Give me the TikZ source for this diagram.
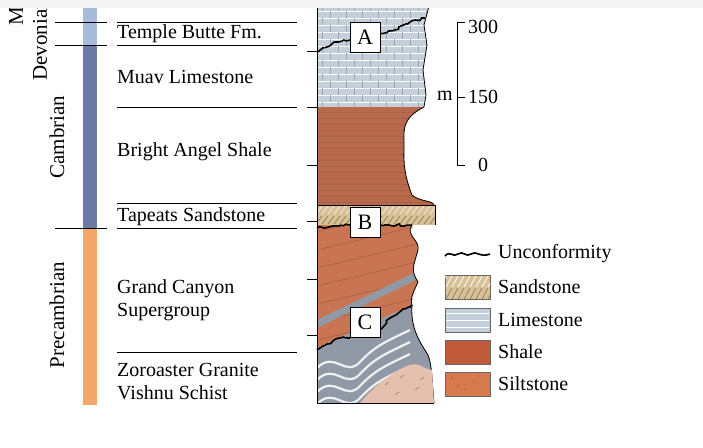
\documentclass[tikz,border=0pt]{standalone}
\usepackage{fontspec}
\setmainfont{Liberation Serif}
\usetikzlibrary{decorations.pathmorphing}
\definecolor{lime}{HTML}{C3D0DC}
\definecolor{shale}{HTML}{B86A4C}
\definecolor{shaleL}{HTML}{C05A3A}
\definecolor{sgrp}{HTML}{C97452}
\definecolor{sand}{HTML}{D8C195}
\definecolor{schist}{HTML}{9299A6}
\definecolor{gran}{HTML}{E6C0AE}
\definecolor{barL}{HTML}{A9BBDC}
\definecolor{barD}{HTML}{6B7AA6}
\definecolor{barO}{HTML}{F5A66B}
\definecolor{silt}{HTML}{D77A50}
\tikzset{lbl/.style={font=\fontsize{20}{23}\selectfont,anchor=west,inner sep=0},
 rot/.style={font=\fontsize{21}{23}\selectfont,rotate=90,inner sep=0},
 rule/.style={line width=0.8pt},
 unc/.style={line width=1.6pt,decorate,decoration={random steps,segment length=3pt,amplitude=1.2pt}},
 letter/.style={draw,fill=white,minimum size=30pt,inner sep=0,font=\fontsize{22}{24}\selectfont},
 sw/.style={draw=black!60,line width=0.6pt,minimum width=45pt,minimum height=24pt,inner sep=0}}
\begin{document}
\begin{tikzpicture}[x=1pt,y=-1pt]
\useasboundingbox (0,0) rectangle (703,447);
\fill[white] (0,0) rectangle (703,447);
% rotated period labels
\node[rot] (dev) at (40,40) {Devonian};
\node[rot] (mis) at (16,16) {M};
\node[rot] (cam) at (57,137) {Cambrian};
\node[rot] (pre) at (57,315) {Precambrian};
% period bar
\fill[barL] (83,0) rectangle (97,45);
\fill[barD] (83,45) rectangle (97,228);
\fill[barO] (83,228) rectangle (97,405);
\foreach \y in {22,45,228} \draw[rule] (55,\y) -- (107,\y);
% formation rules
\foreach \y in {22,45,107,203,228,352} \draw[rule] (117,\y) -- (297,\y);
\node[lbl] (tb) at (117,34) {Temple Butte Fm.};
\node[lbl] (mu) at (117,77) {Muav Limestone};
\node[lbl] (ba) at (117,152) {Bright Angel Shale};
\node[lbl] (ts) at (117,217) {Tapeats Sandstone};
\node[lbl,align=left] (gc) at (117,300) {Grand Canyon\\Supergroup};
\node[lbl,align=left] (zv) at (117,382) {Zoroaster Granite\\Vishnu Schist};
% ticks
\foreach \y in {51,107,165,221,279,335} \draw[rule] (307,\y) -- (317,\y);
% limestone
\begin{scope}
\clip (317,0) -- (430,0) -- (428,10) -- (424,25) -- (427,45) -- (423,70) -- (426,95) -- (424,107) -- (317,107) -- cycle;
\fill[lime] (317,0) rectangle (440,107);
\foreach \y in {4,11,...,107} \draw[white,line width=1pt] (317,\y) -- (440,\y);
\foreach \y in {4,18,...,107} \foreach \x in {322,338,...,440} \draw[black!35,line width=0.5pt] (\x,\y) -- (\x,\y+7);
\foreach \y in {11,25,...,107} \foreach \x in {330,346,...,440} \draw[black!35,line width=0.5pt] (\x,\y) -- (\x,\y+7);
\end{scope}
\draw[rule] (430,0) -- (428,10) -- (424,25) -- (427,45) -- (423,70) -- (426,95) -- (424,107);
% shale
\begin{scope}
\clip (317,107) -- (424,107) .. controls (398,120) and (405,135) .. (404,150) .. controls (403,170) and (408,185) .. (412,195) .. controls (420,202) and (432,200) .. (434,205) -- (317,205) -- cycle;
\fill[shale] (317,107) rectangle (440,205);
\foreach \y in {112,118,...,205} \draw[shale!92!black,line width=0.3pt] (317,\y) -- (440,\y);
\end{scope}
\draw[rule] (424,107) .. controls (398,120) and (405,135) .. (404,150) .. controls (403,170) and (408,185) .. (412,195) .. controls (420,202) and (432,200) .. (434,205);
% sandstone
\fill[sand] (317,205) rectangle (435,225);
\begin{scope}
\clip (317,205) rectangle (435,225);
\foreach \x in {310,316,...,440} {\draw[white!70!sand,line width=0.8pt] (\x,214) -- (\x+6,206);
 \draw[sand!60!black,line width=0.6pt] (\x,224) -- (\x+6,216);}
\end{scope}
\draw[rule] (317,205) -- (435,205) -- (435,225);
% supergroup
\fill[sgrp] (317,225) -- (412,225) .. controls (405,235) and (420,240) .. (418,250) .. controls (414,265) and (410,270) .. (418,282) .. controls (412,295) and (410,300) .. (412,305) -- (317,348) -- cycle;
\begin{scope}
\clip (317,225) -- (412,225) -- (420,250) -- (412,270) -- (418,282) -- (412,305) -- (317,350) -- cycle;
\foreach \d in {0,18,...,140} \draw[sgrp!75!black,line width=0.4pt] (317,232+\d) -- (430,205+\d);
\fill[schist] (317,320) -- (420,270) -- (420,278) -- (317,328) -- cycle;
\end{scope}
\draw[rule] (412,225) .. controls (405,235) and (420,240) .. (418,250) .. controls (414,265) and (410,270) .. (418,282) .. controls (412,295) and (410,300) .. (412,305);
% schist and granite
\fill[schist] (317,348) -- (412,305) .. controls (410,330) and (422,345) .. (428,355) .. controls (432,365) and (432,380) .. (434,403) -- (317,403) -- cycle;
\draw[rule] (412,305) .. controls (410,330) and (422,345) .. (428,355) .. controls (432,365) and (432,380) .. (434,403);
\begin{scope}
\clip (317,348) -- (412,305) -- (428,355) -- (360,403) -- (317,403) -- cycle;
\foreach \o in {0,12,24,36} \draw[white!85!schist,line width=2.2pt] (317,368+\o) .. controls (335,350+\o) and (345,378+\o) .. (360,362+\o) .. controls (375,346+\o) and (385,342+\o) .. (410,330+\o);
\end{scope}
\fill[gran] (360,403) .. controls (375,385) and (395,370) .. (410,365) .. controls (420,362) and (425,370) .. (432,370) -- (434,403) -- cycle;
\foreach \p in {(385,385),(400,378),(415,390),(395,395),(420,380)} \draw[gran!60!black,line width=0.5pt] \p -- ++(4,-3);
% unconformities
\draw[unc] (317,52) -- (335,42) -- (350,40);
\draw[unc] (380,33) -- (395,30) -- (410,22) -- (425,18);
\draw[unc] (317,228) -- (350,225);
\draw[unc] (380,225) -- (412,225);
\draw[unc] (317,350) -- (340,338) -- (350,338);
\draw[unc] (380,330) -- (390,318) -- (412,305);
\draw[line width=0.8pt] (317,0) -- (317,403) -- (434,403);
% letters
\node[letter] (A) at (365,37) {A};
\node[letter] (B) at (365,222) {B};
\node[letter] (C) at (365,322) {C};
% scale
\coordinate (s3) at (457,22);
\coordinate (s0) at (457,165);
\draw[rule] (s3) -- (s0);
\draw[rule] (s3) -- ++(8,0);
\draw[rule] (457,97) -- ++(8,0);
\draw[rule] (s0) -- ++(8,0);
\node[lbl] (t300) at (468,27) {300};
\node[lbl] (t150) at (468,97) {150};
\node[lbl] (t0) at (478,165) {0};
\node[lbl] (tm) at (437,96) {m};
% legend
\draw[line width=1.6pt] (445,256) .. controls (450,250) and (453,258) .. (458,254) .. controls (463,250) and (466,258) .. (471,254) .. controls (476,250) and (480,258) .. (490,254);
\node[lbl] (lu) at (498,254) {Unconformity};
\node[sw,fill=sand] (ls) at (467.5,287) {};
\begin{scope}
\clip (445,275) rectangle (490,299);
\foreach \x in {440,446,...,495} {\draw[white,line width=0.8pt] (\x,287) -- (\x+6,276);
 \draw[sand!60!black,line width=0.6pt] (\x,299) -- (\x+6,288);}
\end{scope}
\node[lbl] (lst) at (498,287) {Sandstone};
\node[sw,fill=lime] (ll) at (467.5,320) {};
\foreach \y in {313,320,327} \draw[white,line width=1pt] (446,\y) -- (489,\y);
\node[lbl] (llt) at (498,320) {Limestone};
\node[sw,fill=shaleL] (lsh) at (467.5,352) {};
\node[lbl] (lsht) at (498,352) {Shale};
\node[sw,fill=silt] (lsi) at (467.5,384) {};
\foreach \p in {(452,378),(465,390),(480,376),(458,386),(474,382)} \fill[silt!60!black] \p circle (0.6);
\node[lbl] (lsit) at (498,384) {Siltstone};
% top browser strip
\fill[black!4] (0,0) rectangle (703,8);
\end{tikzpicture}
\end{document}
